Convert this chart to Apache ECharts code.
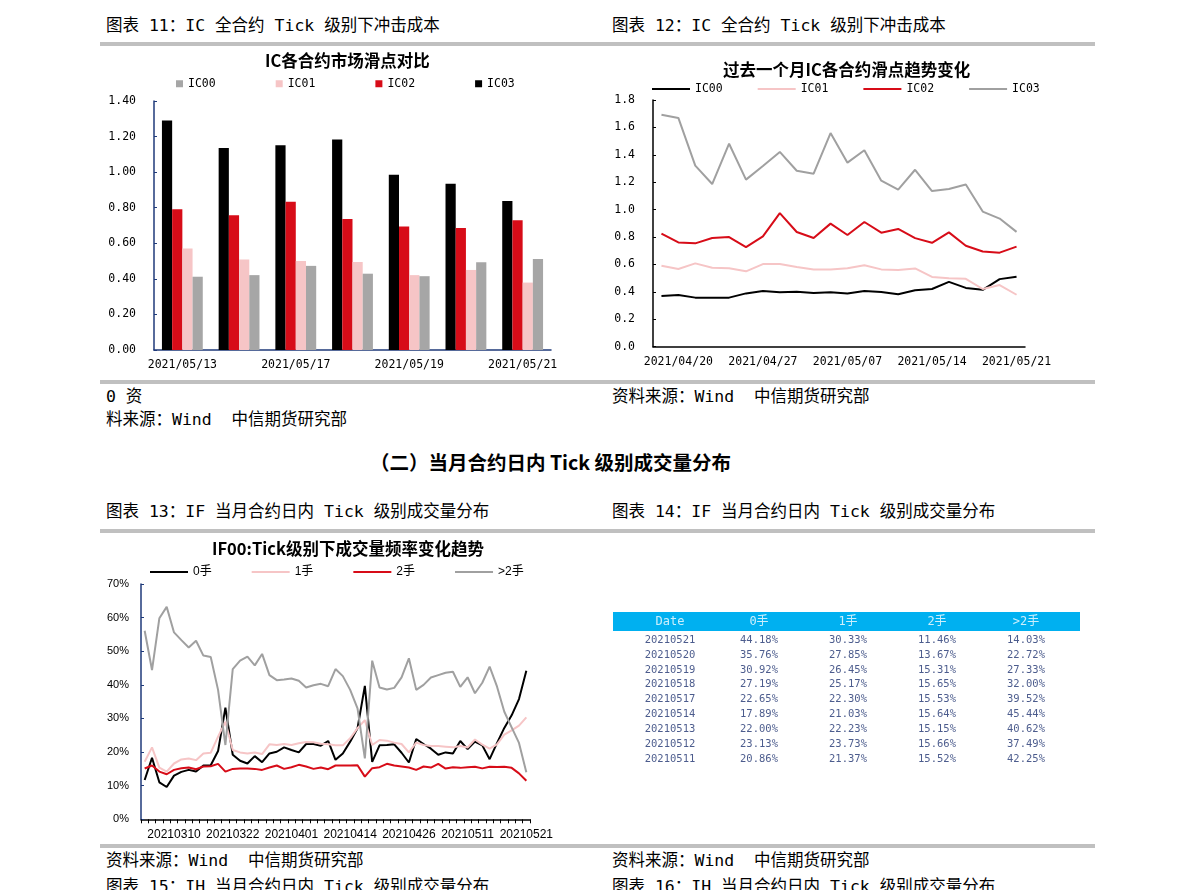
<!DOCTYPE html>
<html><head><meta charset="utf-8">
<script src="https://cdn.jsdelivr.net/npm/echarts@6/dist/echarts.min.js"></script>
<style>
body{margin:0;background:#fff;}
#page{position:relative;width:1191px;height:890px;overflow:hidden;background:#fff;}
.t{position:absolute;font-family:"DejaVu Sans Mono","Noto Sans CJK SC",monospace;font-size:16.5px;line-height:20px;color:#000;white-space:pre;}
.h{position:absolute;font-family:"Noto Sans CJK SC",sans-serif;font-weight:bold;font-size:19.5px;line-height:22px;color:#000;white-space:pre;}
.hr{position:absolute;height:4px;background:#C0C0C0;}
.c{position:absolute;}
</style></head>
<body><div id="page">
<div class="t" style="left:106px;top:16px">图表 11：IC 全合约 Tick 级别下冲击成本</div>
<div class="t" style="left:612px;top:16px">图表 12：IC 全合约 Tick 级别下冲击成本</div>
<div class="hr" style="left:100px;top:42px;width:995px"></div>
<div class="c" id="c11" style="left:100px;top:46px;width:500px;height:332px"></div>
<div class="c" id="c12" style="left:605px;top:46px;width:490px;height:332px"></div>
<div class="hr" style="left:100px;top:380px;width:995px"></div>
<div class="t" style="left:106px;top:387px">0 资</div>
<div class="t" style="left:106px;top:410px">料来源：Wind  中信期货研究部</div>
<div class="t" style="left:612px;top:387px">资料来源：Wind  中信期货研究部</div>
<div class="h" style="left:370px;top:451px">（二）当月合约日内 Tick 级别成交量分布</div>
<div class="t" style="left:106px;top:502px">图表 13：IF 当月合约日内 Tick 级别成交量分布</div>
<div class="t" style="left:612px;top:502px">图表 14：IF 当月合约日内 Tick 级别成交量分布</div>
<div class="hr" style="left:100px;top:529px;width:995px"></div>
<div class="c" id="c13" style="left:100px;top:533px;width:500px;height:311px"></div>
<div class="c" id="c14" style="left:605px;top:600px;width:490px;height:180px"></div>
<div class="hr" style="left:100px;top:844px;width:995px"></div>
<div class="t" style="left:106px;top:851px">资料来源：Wind  中信期货研究部</div>
<div class="t" style="left:612px;top:851px">资料来源：Wind  中信期货研究部</div>
<div class="t" style="left:106px;top:877px">图表 15：IH 当月合约日内 Tick 级别成交量分布</div>
<div class="t" style="left:612px;top:877px">图表 16：IH 当月合约日内 Tick 级别成交量分布</div>
</div>
<script>
// ---------- Chart 11 data ----------
var barDates = ['2021/05/13','2021/05/14','2021/05/17','2021/05/18','2021/05/19','2021/05/20','2021/05/21'];
var barIC00 = [0.412,0.421,0.473,0.429,0.415,0.493,0.511];
var barIC01 = [0.571,0.509,0.500,0.495,0.421,0.450,0.379];
var barIC02 = [0.792,0.758,0.834,0.737,0.695,0.686,0.730];
var barIC03 = [1.291,1.136,1.151,1.183,0.986,0.935,0.838];

// ---------- Chart 12 data ----------
var lineDates = ['2021/04/19','2021/04/20','2021/04/21','2021/04/22','2021/04/23','2021/04/26','2021/04/27','2021/04/28','2021/04/29','2021/04/30','2021/05/06','2021/05/07','2021/05/10','2021/05/11','2021/05/12','2021/05/13','2021/05/14','2021/05/17','2021/05/18','2021/05/19','2021/05/20','2021/05/21'];
var lineIC00 = [0.370,0.377,0.358,0.358,0.358,0.389,0.406,0.397,0.401,0.392,0.397,0.389,0.406,0.399,0.382,0.412,0.421,0.473,0.429,0.415,0.493,0.511];
var lineIC01 = [0.591,0.567,0.608,0.576,0.572,0.550,0.603,0.603,0.581,0.564,0.564,0.572,0.594,0.564,0.560,0.571,0.509,0.500,0.495,0.421,0.450,0.379];
var lineIC02 = [0.825,0.761,0.754,0.793,0.800,0.727,0.805,0.975,0.837,0.793,0.898,0.815,0.910,0.832,0.859,0.792,0.758,0.834,0.737,0.695,0.686,0.730];
var lineIC03 = [1.693,1.669,1.321,1.187,1.481,1.219,1.318,1.421,1.284,1.262,1.559,1.343,1.433,1.211,1.146,1.291,1.136,1.151,1.183,0.986,0.935,0.838];

// ---------- Chart 13 data ----------
var ifDates = ['20210304','20210305','20210308','20210309','20210310','20210311','20210312','20210315','20210316','20210317','20210318','20210319','20210322','20210323','20210324','20210325','20210326','20210329','20210330','20210331','20210401','20210402','20210406','20210407','20210408','20210409','20210412','20210413','20210414','20210415','20210416','20210419','20210420','20210421','20210422','20210423','20210426','20210427','20210428','20210429','20210430','20210506','20210507','20210510','20210511','20210512','20210513','20210514','20210517','20210518','20210519','20210520','20210521'];
var if0 = [11.7,18.3,11.0,9.6,13.0,14.1,14.7,14.2,16.0,16.1,20.3,33.2,19.2,17.4,16.6,18.8,17.0,19.6,20.1,21.4,20.6,19.9,22.4,22.4,21.9,23.3,17.7,19.6,23.1,27.1,39.7,17.1,22.0,22.1,22.3,19.8,16.9,23.9,22.4,21.0,19.2,19.9,19.6,23.3,20.86,23.13,22.00,17.89,22.65,27.19,30.92,35.76,44.18];
var if1 = [17.1,21.4,15.4,14.2,16.6,17.8,18.1,17.6,19.6,19.8,24.6,29.0,20.6,19.9,19.6,19.9,19.4,22.3,22.1,22.4,22.1,22.6,23.0,22.9,22.5,22.3,22.0,22.0,24.1,27.1,29.5,22.1,23.6,23.4,22.8,22.4,19.9,22.8,22.1,21.8,21.8,21.6,21.4,21.8,21.37,23.73,22.23,21.03,22.30,25.17,26.45,27.85,30.33];
var if2 = [15.1,16.0,14.2,13.4,14.7,15.2,15.4,14.9,15.7,15.8,16.5,14.2,15.0,15.1,15.1,15.0,14.7,15.4,16.0,15.0,15.5,16.2,15.7,15.0,15.4,14.9,16.0,16.0,16.0,16.1,12.7,15.2,15.5,16.5,16.0,15.7,15.4,14.7,15.7,15.4,16.5,15.1,15.5,15.3,15.52,15.66,15.15,15.64,15.53,15.65,15.31,13.67,11.46];
var if3 = [56.1,44.4,59.8,63.2,55.6,53.3,51.1,53.1,48.7,48.3,38.5,22.1,44.7,47.2,48.4,45.8,49.2,42.9,41.4,41.6,41.9,41.2,39.2,39.9,40.3,39.6,44.7,42.6,38.5,33.0,18.1,47.2,39.2,38.6,39.1,42.2,47.9,38.5,40.0,42.2,42.9,43.6,43.9,39.4,42.25,37.49,40.62,45.44,39.52,32.00,27.33,22.72,14.03];

// ---------- Chart 14 table data ----------
var tableCols = ['Date','0手','1手','2手','>2手'];
var tableDates = ['20210521','20210520','20210519','20210518','20210517','20210514','20210513','20210512','20210511'];
var tab0 = ['44.18%','35.76%','30.92%','27.19%','22.65%','17.89%','22.00%','23.13%','20.86%'];
var tab1 = ['30.33%','27.85%','26.45%','25.17%','22.30%','21.03%','22.23%','23.73%','21.37%'];
var tab2 = ['11.46%','13.67%','15.31%','15.65%','15.53%','15.64%','15.15%','15.66%','15.52%'];
var tab3 = ['14.03%','22.72%','27.33%','32.00%','39.52%','45.44%','40.62%','37.49%','42.25%'];

// ---------- styles ----------
var MONO = '"DejaVu Sans Mono","Noto Sans CJK SC",monospace';
var CJK = '"Noto Sans CJK SC",sans-serif';
var C_BLACK = '#000000', C_PINK = '#F6C5C6', C_RED = '#D70C18', C_GRAY = '#A6A6A6', C_LGRAY = '#A0A0A0';
var NAVY = '#1F3A7A';

// Chart 11
var ch11 = echarts.init(document.getElementById('c11'));
ch11.setOption({
  animation:false,
  title:{text:'IC各合约市场滑点对比', left:160, top:1, textStyle:{fontFamily:CJK,fontSize:16.5,fontWeight:'bold',color:'#000'}},
  legend:{data:['IC00','IC01','IC02','IC03'], top:27, left:71, itemWidth:7, itemHeight:7, itemGap:60, icon:'rect',
    textStyle:{fontFamily:MONO,fontSize:11.5,color:'#000'}},
  grid:{left:54, top:55, width:397, height:249, containLabel:false, outerBoundsMode:'none'},
  xAxis:{type:'category', data:barDates, axisLine:{lineStyle:{color:NAVY,width:1.5}}, axisTick:{show:false},
    axisLabel:{interval:1, margin:9, fontFamily:MONO, fontSize:11.5, color:'#000', hideOverlap:false}},
  yAxis:{type:'value', min:0, max:1.4, interval:0.2, splitLine:{show:false},
    axisLine:{show:true, lineStyle:{color:NAVY,width:1.5}}, axisTick:{show:true, inside:true, length:3, lineStyle:{color:NAVY}},
    axisLabel:{margin:18, fontFamily:MONO, fontSize:11.5, color:'#000', formatter:function(v){return v.toFixed(2);}}},
  series:[
    {name:'IC03', type:'bar', data:barIC03, itemStyle:{color:C_BLACK}, barGap:'0%', barCategoryGap:'28%'},
    {name:'IC02', type:'bar', data:barIC02, itemStyle:{color:C_RED}, barGap:'0%', barCategoryGap:'28%'},
    {name:'IC01', type:'bar', data:barIC01, itemStyle:{color:C_PINK}, barGap:'0%', barCategoryGap:'28%'},
    {name:'IC00', type:'bar', data:barIC00, itemStyle:{color:C_GRAY}, barGap:'0%', barCategoryGap:'28%'}
  ]
});

// Chart 12
function lineSeries(name, data, color){
  return {name:name, type:'line', data:data, symbol:'none', showSymbol:false, lineStyle:{color:color,width:2}, itemStyle:{color:color}};
}
var ch12 = echarts.init(document.getElementById('c12'));
ch12.setOption({
  animation:false,
  title:{text:'过去一个月IC各合约滑点趋势变化', left:113, top:10, textStyle:{fontFamily:CJK,fontSize:16.5,fontWeight:'bold',color:'#000'}},
  legend:{data:['IC00','IC01','IC02','IC03'], top:31, left:42, itemWidth:38, itemHeight:2, itemGap:35, icon:'rect',
    textStyle:{fontFamily:MONO,fontSize:11.5,lineHeight:14,color:'#000'}},
  grid:{left:48, top:54, width:372, height:246.7, containLabel:false, outerBoundsMode:'none'},
  xAxis:{type:'category', data:lineDates, boundaryGap:true, axisLine:{lineStyle:{color:'#000',width:1.5}}, axisTick:{show:false},
    axisLabel:{interval:function(i){return i%5===1;}, margin:10, fontFamily:MONO, fontSize:11.5, color:'#000', hideOverlap:false}},
  yAxis:{type:'value', min:0, max:1.8, interval:0.2, splitLine:{show:false},
    axisLine:{show:true, lineStyle:{color:'#000',width:1.5}}, axisTick:{show:true, inside:true, length:3, lineStyle:{color:'#000'}},
    axisLabel:{margin:18, fontFamily:MONO, fontSize:11.5, color:'#000', formatter:function(v){return v.toFixed(1);}}},
  series:[
    lineSeries('IC00', lineIC00, C_BLACK),
    lineSeries('IC01', lineIC01, C_PINK),
    lineSeries('IC02', lineIC02, C_RED),
    lineSeries('IC03', lineIC03, C_LGRAY)
  ]
});

// Chart 13
var ch13 = echarts.init(document.getElementById('c13'));
ch13.setOption({
  animation:false,
  title:{text:'IF00:Tick级别下成交量频率变化趋势', left:107, top:2, textStyle:{fontFamily:CJK,fontSize:16.5,fontWeight:'bold',color:'#000'}},
  legend:{data:['0手','1手','2手','>2手'], top:27, left:45, itemWidth:38, itemHeight:2, itemGap:40, icon:'rect',
    textStyle:{fontFamily:'"Liberation Sans","Noto Sans CJK SC",sans-serif',fontSize:12,lineHeight:14,color:'#000'}},
  grid:{left:41, top:51, width:389, height:235.3, containLabel:false, outerBoundsMode:'none'},
  xAxis:{type:'category', data:ifDates, boundaryGap:true, axisLine:{lineStyle:{color:'#000',width:1.5}},
    axisTick:{show:true, interval:0, length:4, lineStyle:{color:'#000'}},
    axisLabel:{interval:function(i){return i%8===4;}, margin:9, fontFamily:'"Liberation Sans",sans-serif', fontSize:12, color:'#000', hideOverlap:false}},
  yAxis:{type:'value', min:0, max:70, interval:10, splitLine:{show:false},
    axisLine:{show:true, lineStyle:{color:NAVY,width:1.5}}, axisTick:{show:true, inside:true, length:3, lineStyle:{color:NAVY}},
    axisLabel:{margin:12, fontFamily:'"Liberation Sans",sans-serif', fontSize:11, color:'#000', formatter:'{value}%'}},
  series:[
    lineSeries('0手', if0, C_BLACK),
    lineSeries('1手', if1, C_PINK),
    lineSeries('2手', if2, C_RED),
    lineSeries('>2手', if3, C_LGRAY)
  ]
});

// Chart 14 (table)
var bodyCols = [tableDates, tab0, tab1, tab2, tab3];
var bodyData = [];
bodyCols.forEach(function(col, ci){
  col.forEach(function(txt, ri){ bodyData.push({value:[ci, ri], name:txt}); });
});
var headData = tableCols.map(function(c, ci){ return {value:[ci, 0], name:c}; });
var ch14 = echarts.init(document.getElementById('c14'));
ch14.setOption({
  animation:false,
  graphic:[{type:'rect', z:-10, shape:{x:8, y:12, width:467, height:19}, style:{fill:'#00B0F0'}}],
  grid:[
    {left:20.5, top:12, width:445, height:19, outerBoundsMode:'none'},
    {left:20.5, top:32.6, width:445, height:133.8, outerBoundsMode:'none'}
  ],
  xAxis:[
    {type:'category', data:tableCols, gridIndex:0, show:false},
    {type:'category', data:tableCols, gridIndex:1, show:false}
  ],
  yAxis:[
    {type:'category', data:['h'], gridIndex:0, show:false},
    {type:'category', data:tableDates, gridIndex:1, inverse:true, show:false}
  ],
  series:[
    {type:'scatter', xAxisIndex:0, yAxisIndex:0, data:headData, symbolSize:1, itemStyle:{color:'transparent'}, silent:true,
      label:{show:true, position:'inside', formatter:'{b}', color:'#fff', fontFamily:MONO, fontSize:12}},
    {type:'scatter', xAxisIndex:1, yAxisIndex:1, data:bodyData, symbolSize:1, itemStyle:{color:'transparent'}, silent:true,
      label:{show:true, position:'inside', formatter:'{b}', color:'#1F3370', fontFamily:MONO, fontSize:10.5}}
  ]
});
</script>
</body></html>
